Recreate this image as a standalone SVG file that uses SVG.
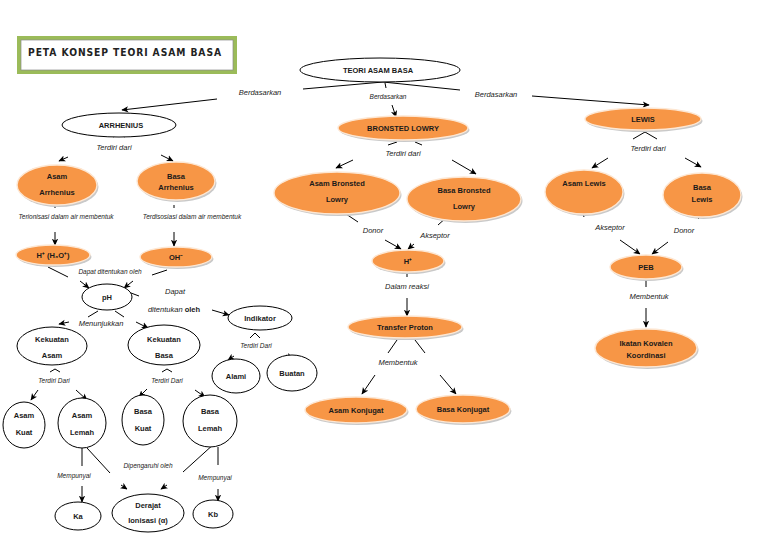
<svg xmlns="http://www.w3.org/2000/svg" width="768" height="543" viewBox="0 0 768 543">
<style>
.bg{fill:#fff}
.or{fill:#F79646;stroke:#fde7d3;stroke-width:1.4}
.sh{fill:#c9c9c9}
.wh{fill:#fff;stroke:#000;stroke-width:1}
.nt{font-family:"Liberation Sans",Arial,sans-serif;font-weight:bold;font-size:7.5px;fill:#1a1a1a;text-anchor:middle}
.lb{font-family:"Liberation Sans",Arial,sans-serif;font-style:italic;font-size:7.5px;fill:#1a1a1a;text-anchor:middle}
.sm{font-size:6.5px}
.cn line,.cn polyline{stroke:#000;stroke-width:1;fill:none}
.ar{marker-end:url(#ah)}
</style>
<defs>
<marker id="ah" viewBox="0 0 10 10" refX="9" refY="5" markerWidth="7" markerHeight="7" orient="auto" markerUnits="userSpaceOnUse"><path d="M0,0.5 L10,5 L0,9.5 L2.5,5 z" fill="#000"/></marker>
</defs>
<rect class="bg" x="0" y="0" width="768" height="543"/>

<g id="title">
<rect x="17" y="36" width="220" height="38" fill="#9BBB59"/>
<rect x="21" y="40" width="212" height="30" fill="#fff" stroke="#8a8a8a" stroke-width="0.7"/>
<text x="28" y="56" font-family="DejaVu Sans,sans-serif" font-weight="bold" font-size="10" fill="#222" letter-spacing="1" textLength="194" lengthAdjust="spacingAndGlyphs">PETA KONSEP TEORI ASAM BASA</text>
</g>

<g class="cn" id="connectors">
<line class="ar" x1="217" y1="99" x2="122" y2="110"/>
<polyline points="303,89 383,82 460,90"/>
<line x1="385" y1="83" x2="386" y2="88"/>
<line class="ar" x1="392" y1="105" x2="396" y2="117"/>
<line class="ar" x1="532" y1="96" x2="649" y2="105"/>
<!-- Arrhenius -->
<polyline points="113,137 119,134 125,137"/>
<line class="ar" x1="68" y1="157" x2="59" y2="161"/>
<line class="ar" x1="161" y1="155" x2="173" y2="161"/>
<line x1="55" y1="205" x2="55" y2="208"/>
<line x1="174" y1="205" x2="174" y2="208"/>
<line class="ar" x1="55" y1="232" x2="55" y2="245"/>
<line class="ar" x1="174" y1="232" x2="174" y2="246"/>
<line x1="48" y1="267" x2="68" y2="277"/>
<line x1="152" y1="275" x2="167" y2="270"/>
<line class="ar" x1="80" y1="281" x2="89" y2="288"/>
<line class="ar" x1="133" y1="281" x2="124" y2="288"/>
<line x1="131" y1="293" x2="139" y2="296"/>
<line x1="98" y1="311" x2="88" y2="317"/>
<line x1="115" y1="311" x2="124" y2="317"/>
<line class="ar" x1="69" y1="322" x2="59" y2="324"/>
<line class="ar" x1="136" y1="322" x2="148" y2="328"/>
<line class="ar" x1="212" y1="310" x2="229" y2="315"/>
<polyline points="250,338 255,333 260,338"/>
<line class="ar" x1="234" y1="356" x2="228" y2="360"/>
<line class="ar" x1="286" y1="355" x2="292" y2="359"/>
<polyline points="50,372 55,369 60,372"/>
<line class="ar" x1="38" y1="390" x2="31" y2="400"/>
<line class="ar" x1="76" y1="390" x2="87" y2="400"/>
<polyline points="162,372 167,369 172,372"/>
<line class="ar" x1="147" y1="389" x2="139" y2="397"/>
<line class="ar" x1="195" y1="390" x2="205" y2="397"/>
<line x1="82" y1="448" x2="82" y2="466"/>
<line class="ar" x1="82" y1="486" x2="82" y2="502"/>
<line x1="87" y1="448" x2="110" y2="473"/>
<line x1="183" y1="472" x2="215" y2="443"/>
<line x1="218" y1="447" x2="218" y2="465"/>
<line class="ar" x1="218" y1="489" x2="218" y2="501"/>
<line class="ar" x1="121" y1="485" x2="127" y2="489"/>
<line class="ar" x1="167" y1="485" x2="161" y2="489"/>
<!-- Bronsted -->
<line x1="397" y1="142" x2="388" y2="145"/>
<line x1="415" y1="142" x2="422" y2="145"/>
<line class="ar" x1="353" y1="160" x2="336" y2="168"/>
<line class="ar" x1="452" y1="160" x2="476" y2="174"/>
<line x1="343" y1="212" x2="358" y2="222"/>
<line x1="447" y1="217" x2="438" y2="225"/>
<line class="ar" x1="385" y1="240" x2="401" y2="249"/>
<line class="ar" x1="414" y1="244" x2="408" y2="249"/>
<line x1="407" y1="273" x2="407" y2="277"/>
<line class="ar" x1="407" y1="298" x2="407" y2="316"/>
<line x1="397" y1="340" x2="388" y2="353"/>
<line x1="415" y1="340" x2="425" y2="353"/>
<line class="ar" x1="375" y1="375" x2="362" y2="394"/>
<line class="ar" x1="440" y1="375" x2="456" y2="394"/>
<!-- Lewis -->
<polyline points="633,139 645,132 657,139"/>
<line class="ar" x1="608" y1="158" x2="592" y2="168"/>
<line class="ar" x1="685" y1="158" x2="701" y2="167"/>
<line x1="583" y1="214" x2="584" y2="217"/>
<line x1="700" y1="217" x2="698" y2="219"/>
<line class="ar" x1="620" y1="240" x2="640" y2="254"/>
<line class="ar" x1="668" y1="242" x2="652" y2="254"/>
<line x1="646" y1="280" x2="646" y2="287"/>
<line class="ar" x1="646" y1="308" x2="646" y2="327"/>
</g>

<g id="labels">
<text class="lb" x="260" y="95">Berdasarkan</text>
<text class="lb sm" x="388" y="99">Berdasarkan</text>
<text class="lb" x="496" y="97">Berdasarkan</text>
<text class="lb" x="114" y="150">Terdiri dari</text>
<text class="lb sm" x="66" y="219">Terionisasi dalam air membentuk</text>
<text class="lb sm" x="192" y="219">Terdisosiasi dalam air membentuk</text>
<text class="lb sm" x="110" y="274">Dapat ditentukan oleh</text>
<text class="lb" x="175" y="294">Dapat</text>
<text class="lb" x="174" y="312">ditentukan <tspan font-style="normal" font-weight="bold">oleh</tspan></text>
<text class="lb" x="101" y="326" font-size="8.5">Menunjukkan</text>
<text class="lb sm" x="256" y="348">Terdiri Dari</text>
<text class="lb sm" x="54" y="383">Terdiri Dari</text>
<text class="lb sm" x="167" y="383">Terdiri Dari</text>
<text class="lb sm" x="74" y="478">Mempunyai</text>
<text class="lb sm" x="148" y="468">Dipengaruhi oleh</text>
<text class="lb sm" x="215" y="480">Mempunyai</text>
<text class="lb" x="403" y="156">Terdiri dari</text>
<text class="lb" x="373" y="233">Donor</text>
<text class="lb" x="435" y="238">Akseptor</text>
<text class="lb" x="407" y="289">Dalam reaksi</text>
<text class="lb" x="398" y="365">Membentuk</text>
<text class="lb" x="648" y="151">Terdiri dari</text>
<text class="lb" x="610" y="230">Akseptor</text>
<text class="lb" x="684" y="233">Donor</text>
<text class="lb" x="649" y="299">Membentuk</text>
</g>

<g id="teori"><ellipse class="wh" cx="380" cy="70" rx="80" ry="12"/><text class="nt" x="378" y="73" font-size="8">TEORI ASAM BASA</text></g>
<g id="arrhenius"><ellipse class="wh" cx="119" cy="125" rx="57" ry="12"/><text class="nt" x="121" y="128">ARRHENIUS</text></g>
<g id="asam-arrhenius"><ellipse class="sh" cx="58.5" cy="187" rx="40" ry="20"/><ellipse class="or" cx="57" cy="185" rx="40" ry="20"/><text class="nt" x="57" y="179">Asam</text><text class="nt" x="57" y="195">Arrhenius</text></g>
<g id="basa-arrhenius"><ellipse class="sh" cx="177.5" cy="183" rx="39" ry="19"/><ellipse class="or" cx="176" cy="181" rx="39" ry="19"/><text class="nt" x="176" y="179">Basa</text><text class="nt" x="176" y="190">Arrhenius</text></g>
<g id="h-h3o"><ellipse class="sh" cx="54.5" cy="257" rx="37" ry="10"/><ellipse class="or" cx="53" cy="255" rx="37" ry="10"/><text class="nt" x="53" y="258">H⁺ (H₃O⁺)</text></g>
<g id="oh"><ellipse class="sh" cx="177.5" cy="259" rx="36" ry="10"/><ellipse class="or" cx="176" cy="257" rx="36" ry="10"/><text class="nt" x="176" y="260">OH⁻</text></g>
<g id="ph"><ellipse class="wh" cx="107" cy="297" rx="25" ry="13"/><text class="nt" x="107" y="300">pH</text></g>
<g id="indikator"><ellipse class="wh" cx="260" cy="318" rx="32" ry="12"/><text class="nt" x="260" y="321">Indikator</text></g>
<g id="kekuatan-asam"><ellipse class="wh" cx="52" cy="346" rx="35" ry="19"/><text class="nt" x="52" y="342">Kekuatan</text><text class="nt" x="52" y="358">Asam</text></g>
<g id="kekuatan-basa"><ellipse class="wh" cx="164" cy="345" rx="36" ry="20"/><text class="nt" x="164" y="342">Kekuatan</text><text class="nt" x="164" y="358">Basa</text></g>
<g id="alami"><ellipse class="wh" cx="236" cy="376" rx="24" ry="17"/><text class="nt" x="236" y="379">Alami</text></g>
<g id="buatan"><ellipse class="wh" cx="292" cy="373" rx="25" ry="18"/><text class="nt" x="292" y="376">Buatan</text></g>
<g id="asam-kuat"><ellipse class="wh" cx="24" cy="425" rx="21" ry="23"/><text class="nt" x="24" y="418">Asam</text><text class="nt" x="24" y="435">Kuat</text></g>
<g id="asam-lemah"><ellipse class="wh" cx="82" cy="423" rx="24" ry="25"/><text class="nt" x="82" y="418">Asam</text><text class="nt" x="82" y="435">Lemah</text></g>
<g id="basa-kuat"><ellipse class="wh" cx="143" cy="420" rx="21" ry="25"/><text class="nt" x="143" y="414">Basa</text><text class="nt" x="143" y="431">Kuat</text></g>
<g id="basa-lemah"><ellipse class="wh" cx="210" cy="421" rx="27" ry="26"/><text class="nt" x="210" y="414">Basa</text><text class="nt" x="210" y="431">Lemah</text></g>
<g id="ka"><ellipse class="wh" cx="78" cy="516" rx="23" ry="14"/><text class="nt" x="78" y="519">Ka</text></g>
<g id="derajat"><ellipse class="wh" cx="148" cy="513" rx="36" ry="19"/><text class="nt" x="148" y="508">Derajat</text><text class="nt" x="148" y="523">Ionisasi (α)</text></g>
<g id="kb"><ellipse class="wh" cx="213" cy="514" rx="20" ry="14"/><text class="nt" x="213" y="517">Kb</text></g>

<g id="bronsted"><ellipse class="sh" cx="404.5" cy="130" rx="65" ry="12"/><ellipse class="or" cx="403" cy="128" rx="65" ry="12"/><text class="nt" x="403" y="131">BRONSTED LOWRY</text></g>
<g id="asam-bronsted"><ellipse class="sh" cx="338.5" cy="195" rx="63" ry="21"/><ellipse class="or" cx="337" cy="193" rx="63" ry="21"/><text class="nt" x="337" y="186">Asam Bronsted</text><text class="nt" x="337" y="202">Lowry</text></g>
<g id="basa-bronsted"><ellipse class="sh" cx="465.5" cy="201" rx="57" ry="22"/><ellipse class="or" cx="464" cy="199" rx="57" ry="22"/><text class="nt" x="464" y="193">Basa Bronsted</text><text class="nt" x="464" y="209">Lowry</text></g>
<g id="h-plus"><ellipse class="sh" cx="409.5" cy="263" rx="36" ry="11"/><ellipse class="or" cx="408" cy="261" rx="36" ry="11"/><text class="nt" x="408" y="264">H⁺</text></g>
<g id="transfer-proton"><ellipse class="sh" cx="406.5" cy="329" rx="57" ry="11"/><ellipse class="or" cx="405" cy="327" rx="57" ry="11"/><text class="nt" x="405" y="330">Transfer Proton</text></g>
<g id="asam-konjugat"><ellipse class="sh" cx="357.5" cy="412" rx="51" ry="13"/><ellipse class="or" cx="356" cy="410" rx="51" ry="13"/><text class="nt" x="356" y="413">Asam Konjugat</text></g>
<g id="basa-konjugat"><ellipse class="sh" cx="464.5" cy="411" rx="47" ry="14"/><ellipse class="or" cx="463" cy="409" rx="47" ry="14"/><text class="nt" x="463" y="412">Basa Konjugat</text></g>

<g id="lewis"><ellipse class="sh" cx="644.5" cy="121" rx="58" ry="11"/><ellipse class="or" cx="643" cy="119" rx="58" ry="11"/><text class="nt" x="643" y="122">LEWIS</text></g>
<g id="asam-lewis"><ellipse class="sh" cx="585.5" cy="194" rx="39" ry="22"/><ellipse class="or" cx="584" cy="192" rx="39" ry="22"/><text class="nt" x="584" y="186">Asam Lewis</text></g>
<g id="basa-lewis"><ellipse class="sh" cx="703.5" cy="197" rx="39" ry="22"/><ellipse class="or" cx="702" cy="195" rx="39" ry="22"/><text class="nt" x="702" y="190">Basa</text><text class="nt" x="702" y="202">Lewis</text></g>
<g id="peb"><ellipse class="sh" cx="647.5" cy="269" rx="36" ry="12"/><ellipse class="or" cx="646" cy="267" rx="36" ry="12"/><text class="nt" x="646" y="270">PEB</text></g>
<g id="ikatan"><ellipse class="sh" cx="647.5" cy="350" rx="51" ry="19"/><ellipse class="or" cx="646" cy="348" rx="51" ry="19"/><text class="nt" x="646" y="346">Ikatan Kovalen</text><text class="nt" x="646" y="358">Koordinasi</text></g>
</svg>
